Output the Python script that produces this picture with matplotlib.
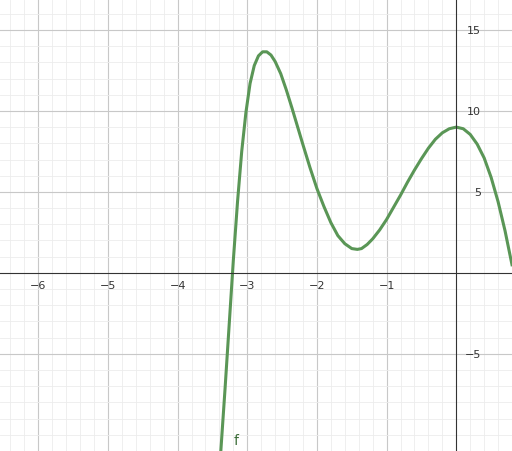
import matplotlib
matplotlib.use("Agg")
import matplotlib.pyplot as plt
from matplotlib.ticker import MultipleLocator

xs = [-3.38, -3.32, -3.26, -3.20, -3.14, -3.08, -3.02, -2.96, -2.90, -2.84, -2.78, -2.72,
      -2.66, -2.60, -2.52, -2.44, -2.36, -2.28, -2.20, -2.10, -2.00, -1.90, -1.80, -1.70,
      -1.60, -1.50, -1.42, -1.36, -1.28, -1.20, -1.10, -1.00, -0.90, -0.80, -0.70, -0.60,
      -0.50, -0.40, -0.30, -0.20, -0.10, 0.00, 0.10, 0.20, 0.30, 0.40, 0.50, 0.60, 0.70, 0.80]
ys = [-11.0, -7.2, -3.2, 0.8, 4.4, 7.5, 9.9, 11.7, 12.8, 13.4, 13.65, 13.65,
      13.45, 13.05, 12.3, 11.3, 10.2, 9.05, 7.9, 6.5, 5.2, 4.1, 3.1, 2.3,
      1.8, 1.5, 1.45, 1.5, 1.75, 2.1, 2.65, 3.3, 4.05, 4.8, 5.6, 6.35,
      7.05, 7.7, 8.25, 8.65, 8.9, 9.0, 8.9, 8.55, 7.95, 7.1, 5.9, 4.4, 2.6, 0.5]

fig = plt.figure(figsize=(5.12, 4.51), dpi=100)
ax = fig.add_axes([0, 0, 1, 1])
ax.set_xlim(-6.55, 0.8)
ax.set_ylim(-11.0, 16.85)

ax.xaxis.set_major_locator(MultipleLocator(1))
ax.xaxis.set_minor_locator(MultipleLocator(0.2))
ax.yaxis.set_major_locator(MultipleLocator(5))
ax.yaxis.set_minor_locator(MultipleLocator(1))
ax.grid(which="major", color="#c8c8c8", lw=0.8)
ax.grid(which="minor", color="#ececec", lw=0.6)
ax.set_axisbelow(True)

for s in ["top", "right"]:
    ax.spines[s].set_visible(False)
ax.spines["left"].set_position(("data", 0))
ax.spines["bottom"].set_position(("data", 0))
ax.spines["left"].set_color("#333333")
ax.spines["bottom"].set_color("#333333")
ax.tick_params(which="both", length=0, labelsize=8, colors="#333333")
ax.tick_params(axis="x", pad=6)
ax.tick_params(axis="y", pad=-18)
ax.set_xticks([-6, -5, -4, -3, -2, -1])
ax.set_xticklabels(["\u22126", "\u22125", "\u22124", "\u22123", "\u22122", "\u22121"])
ax.set_yticks([-5, 5, 10, 15])
ax.set_yticklabels(["\u22125", "5", "10", "15"])
for lab in ax.get_yticklabels():
    lab.set_horizontalalignment("right")

ax.plot(xs, ys, color="#5a9656", lw=2.2, clip_on=True)
ax.text(-3.2, -10.6, "f", color="#3d6e3a", fontsize=10)

fig.savefig("out.png", dpi=100)
